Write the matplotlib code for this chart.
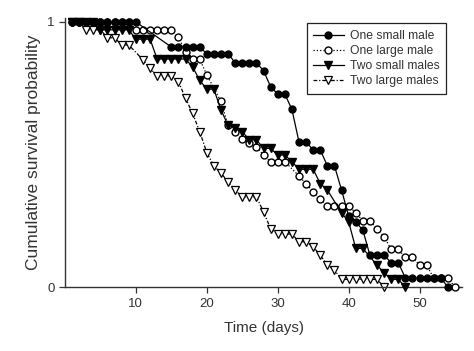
import matplotlib
matplotlib.use("Agg")
import matplotlib.pyplot as plt

plt.rcParams['font.family'] = ['Liberation Sans', 'DejaVu Sans']

# One small male (filled circles, solid)
osm_days = [1,2,3,4,5,6,7,8,9,10,15,16,17,18,19,20,21,22,23,24,25,26,27,28,29,30,31,32,
            33,34,35,36,37,38,39,40,41,42,43,44,45,46,47,48,49,50,51,52,53,54]
osm_surv = [1,1,1,1,1,1,1,1,1,1,0.905,0.905,0.905,0.905,0.905,0.88,0.88,0.88,0.88,
            0.846,0.846,0.846,0.846,0.816,0.755,0.728,0.728,0.67,0.547,0.547,0.517,0.517,
            0.457,0.457,0.366,0.268,0.246,0.215,0.12,0.12,0.12,0.092,0.092,
            0.034,0.034,0.034,0.034,0.034,0.034,0.0]

# One large male (open circles, dotted)
olm_days = [1,2,3,4,5,6,7,8,9,10,11,12,13,14,15,16,17,18,19,20,22,23,24,25,26,27,28,
            29,30,31,33,34,35,36,37,38,39,40,41,42,43,44,45,46,47,48,49,50,51,52,53,54,55]
olm_surv = [1,1,1,1,1,1,1,1,1,0.97,0.97,0.97,0.97,0.97,0.97,0.943,0.887,0.86,0.86,0.80,
            0.70,0.61,0.586,0.56,0.545,0.527,0.498,0.473,0.473,0.473,0.419,0.389,0.36,
            0.332,0.306,0.306,0.306,0.306,0.28,0.25,0.25,0.22,0.19,0.142,0.142,0.112,
            0.112,0.083,0.083,0.033,0.033,0.033,0.0]

# Two small males (filled triangles, solid)
tsm_days = [1,2,3,4,5,6,7,8,9,10,11,12,13,14,15,16,17,18,19,20,21,22,23,24,25,26,27,28,
            29,30,31,32,33,34,35,36,37,39,40,41,42,44,45,46,47,48]
tsm_surv = [1,1,1,1,0.97,0.97,0.97,0.97,0.97,0.935,0.935,0.935,0.86,0.86,0.86,0.86,0.86,
            0.83,0.78,0.746,0.746,0.668,0.61,0.6,0.586,0.555,0.555,0.523,0.523,0.498,
            0.498,0.473,0.444,0.444,0.444,0.39,0.366,0.28,0.246,0.146,0.146,0.083,0.054,
            0.029,0.029,0.0]

# Two large males (open triangles, dash-dot)
tlm_days = [1,2,3,4,5,6,7,8,9,11,12,13,14,15,16,17,18,19,20,21,22,23,24,25,26,27,28,29,
            30,31,32,33,34,35,36,37,38,39,40,41,42,43,44,45]
tlm_surv = [1,1,0.97,0.97,0.97,0.94,0.94,0.913,0.913,0.857,0.825,0.796,0.796,0.796,0.775,
            0.712,0.655,0.586,0.507,0.457,0.43,0.397,0.366,0.34,0.34,0.34,0.284,0.22,
            0.2,0.2,0.2,0.171,0.171,0.152,0.12,0.083,0.064,0.029,0.029,0.029,0.029,0.029,
            0.029,0.0]

labels = ["One small male", "One large male", "Two small males", "Two large males"]
x_ticks = [10, 20, 30, 40, 50]
y_ticks = [0, 1]

fig = plt.figure(figsize=(4.74, 3.51), dpi=100)
ax = fig.add_axes([0.137, 0.182, 0.838, 0.767])

ms = 5
lw = 0.9
ax.plot(osm_days, osm_surv, color='black', lw=lw, ls='-', marker='o', ms=ms,
        mfc='black', mec='black', clip_on=False, label=labels[0], zorder=4)
ax.plot(olm_days, olm_surv, color='black', lw=lw, ls=':', marker='o', ms=ms,
        mfc='white', mec='black', mew=1.0, clip_on=False, label=labels[1], zorder=3)
ax.plot(tsm_days, tsm_surv, color='black', lw=lw, ls='-', marker='v', ms=ms+0.5,
        mfc='black', mec='black', clip_on=False, label=labels[2], zorder=5)
ax.plot(tlm_days, tlm_surv, color='black', lw=lw, ls=(0, (3, 1.5, 1, 1.5)), marker='v',
        ms=ms+0.5, mfc='white', mec='black', mew=0.9, clip_on=False, label=labels[3], zorder=2)

ax.set_xlim(0, 56)
ax.set_ylim(0, 1.015)
ax.set_xticks(x_ticks)
ax.set_yticks(y_ticks)
ax.spines['top'].set_visible(False)
ax.spines['right'].set_visible(False)
for s in ['left', 'bottom']:
    ax.spines[s].set_color('#333333')
    ax.spines[s].set_linewidth(1.0)
ax.tick_params(axis='both', direction='out', length=4, width=0.9, colors='#333333',
               labelsize=9.5, labelcolor='#333333')
ax.set_xlabel("Time (days)", fontsize=11, color='#333333', labelpad=8)
ax.set_ylabel("Cumulative survival probability", fontsize=12.5, color='#333333', labelpad=4)

leg = fig.legend(loc='upper right', bbox_to_anchor=(0.941, 0.934), fontsize=8.7,
                 frameon=True, fancybox=False, edgecolor='#222222', framealpha=1,
                 handlelength=2.5, labelspacing=0.25, borderpad=0.55, handletextpad=0.5,
                 borderaxespad=0)
leg.get_frame().set_linewidth(0.9)
for t in leg.get_texts():
    t.set_color('#333333')

fig.savefig("out.png", dpi=100)
